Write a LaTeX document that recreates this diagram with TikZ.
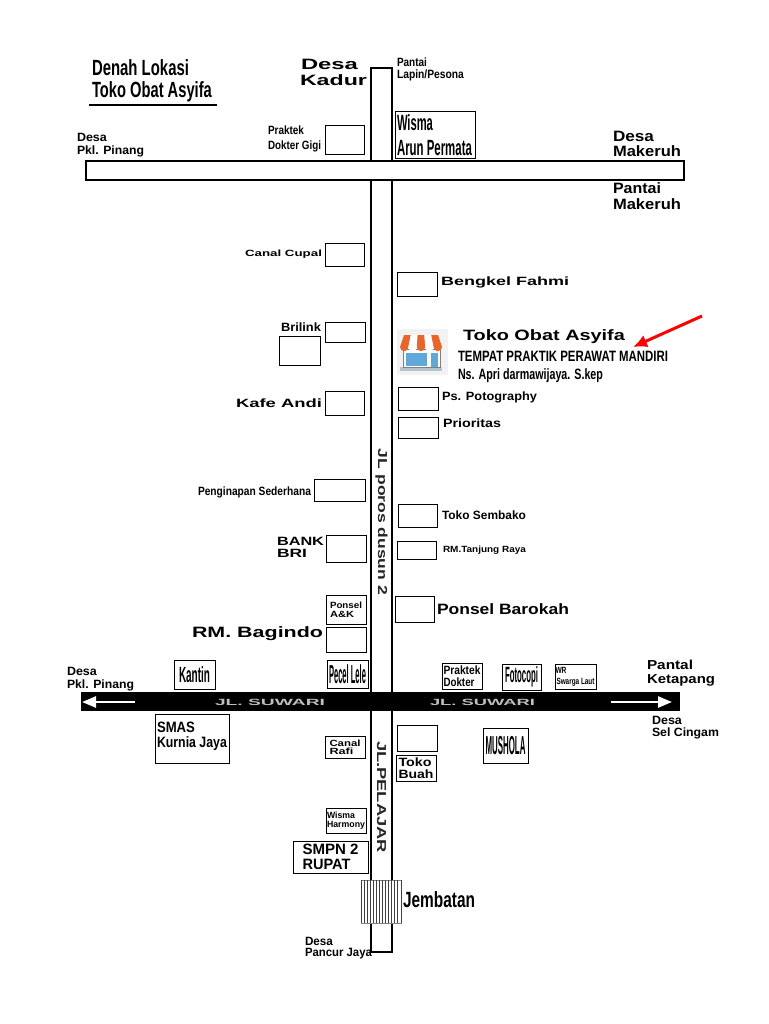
\documentclass[tikz,border=0pt]{standalone}
\usepackage{fontspec}
\usepackage{graphicx}
\usepackage{tikz}
\setmainfont{Liberation Sans}
\definecolor{awning}{HTML}{e8662a}
\definecolor{glass}{HTML}{5fa8d8}
\definecolor{wall}{HTML}{b9c4cc}
% squeeze or stretch a line of text to a width in px
\newcommand{\txt}[2]{\resizebox{#1pt}{\height}{\textbf{#2}}}
\tikzset {
  % boxes for the buildings
  box/.style = {draw, line width=0.9pt, fill=white, inner sep=0pt, outer sep=0pt, align=left},
  % labels, anchored at their left end
  lbl/.style = {inner sep=0pt, outer sep=0pt, anchor=west},
  small/.style = {font=\fontsize{9}{10}\selectfont},
  mid/.style = {font=\fontsize{12}{14}\selectfont},
  big/.style = {font=\fontsize{15}{18}\selectfont},
  huge/.style = {font=\fontsize{22}{26}\selectfont},
  tall/.style = {font=\fontsize{26}{30}\selectfont},
  % roads
  road/.style = {draw, line width=2pt, fill=white, inner sep=0pt, outer sep=0pt},
  whitearrow/.style = {draw=white, line width=2.5pt, -{Triangle[length=14pt,width=11pt]}},
  onblack/.style = {small, white!75!black},
}
\usetikzlibrary{arrows.meta}
\begin{document}
\begin{tikzpicture}[x=1pt, y=-1pt]
      \useasboundingbox (0, 0) rectangle (768, 1024);

      % roads
      \node[road, minimum width=21, minimum height=884] (poros) at (381.5, 510) {};
      \node[road, minimum width=598, minimum height=19] (makeruh) at (385, 170.5) {};
      \node[fill=black, inner sep=0pt, minimum width=599, minimum height=19] (suwari) at (380.5, 701.5) {};
      \coordinate (kirifrom) at (135, 702);
      \coordinate (kirito) at (82, 702);
      \coordinate (kananfrom) at (611, 702);
      \coordinate (kananto) at (672, 702);
      \draw[whitearrow] (kirifrom) -- (kirito);
      \draw[whitearrow] (kananfrom) -- (kananto);
      \node[lbl, onblack] (suwarikiri) at (215, 702) {\txt{110}{JL. SUWARI}};
      \node[lbl, onblack] (suwarikanan) at (430, 702) {\txt{105}{JL. SUWARI}};
      \node[font=\fontsize{13}{15}\selectfont, rotate=-90, inner sep=0pt, black!85] (namaporos) at (381.5, 522) {\txt{146}{JL poros dusun 2}};
      \node[font=\fontsize{13}{15}\selectfont, rotate=-90, inner sep=0pt, black!85] (namapelajar) at (381.5, 797) {\txt{112}{JL.PELAJAR}};

      % title
      \node[lbl, huge] (judul1) at (92, 68) {\txt{97}{Denah Lokasi}};
      \node[lbl, huge] (judul2) at (92, 92) {\txt{120}{Toko Obat Asyifa}};
      \coordinate (garisa) at (89, 105);
      \coordinate (garisb) at (217, 105);
      \draw[line width=1.3pt] (garisa) -- (garisb);

      % top
      \node[lbl, big] (kadur1) at (301, 64) {\txt{57}{Desa}};
      \node[lbl, big] (kadur2) at (300, 80) {\txt{67}{Kadur}};
      \node[lbl, mid] (lapin1) at (397, 62) {\txt{30}{Pantai}};
      \node[lbl, mid] (lapin2) at (397, 75) {\txt{67}{Lapin/Pesona}};
      \node[box, minimum width=80, minimum height=47] (wisma) at (435, 134.5) {};
      \node[lbl, huge] (wisma1) at (397, 123) {\txt{36}{Wisma}};
      \node[lbl, huge] (wisma2) at (397, 148) {\txt{75}{Arun Permata}};
      \node[lbl, mid] (gigi1) at (268, 130) {\txt{36}{Praktek}};
      \node[lbl, mid] (gigi2) at (268, 146) {\txt{53}{Dokter Gigi}};
      \node[box, minimum width=39, minimum height=29] (gigi) at (344.5, 139.5) {};
      \node[lbl, mid] (pinang1) at (77, 137) {\txt{30}{Desa}};
      \node[lbl, mid] (pinang2) at (77, 151) {\txt{67}{Pkl. Pinang}};
      \node[lbl, big] (makeruh1) at (613, 136) {\txt{41}{Desa}};
      \node[lbl, big] (makeruh2) at (613, 151) {\txt{68}{Makeruh}};
      \node[lbl, big] (makeruh3) at (613, 188) {\txt{48}{Pantai}};
      \node[lbl, big] (makeruh4) at (613, 204) {\txt{68}{Makeruh}};

      % left side of the main road
      \node[lbl, small] (cupal1) at (245, 254) {\txt{77}{Canal Cupal}};
      \node[box, minimum width=39, minimum height=23] (cupal) at (344.5, 254.5) {};
      \node[lbl, mid] (brilink1) at (281, 327) {\txt{40}{Brilink}};
      \node[box, minimum width=40, minimum height=20] (brilink) at (345, 332) {};
      \node[box, minimum width=41, minimum height=29] (brilink2) at (299.5, 350.5) {};
      \node[lbl, mid] (kafe1) at (236, 403) {\txt{86}{Kafe Andi}};
      \node[box, minimum width=39, minimum height=24] (kafe) at (344.5, 403) {};
      \node[lbl, mid] (inap1) at (198, 492) {\txt{113}{Penginapan Sederhana}};
      \node[box, minimum width=51, minimum height=22] (inap) at (339.5, 490) {};
      \node[lbl, mid] (bri1) at (277, 541) {\txt{47}{BANK}};
      \node[lbl, mid] (bri2) at (277, 553) {\txt{30}{BRI}};
      \node[box, minimum width=40, minimum height=27] (bri) at (346, 548.5) {};
      \node[box, small, minimum width=40, minimum height=29] (aak) at (346, 609.5) {\txt{32}{Ponsel}\\[-1pt]\txt{24}{A\&K}};
      \node[lbl, big] (bagindo1) at (192, 634) {\txt{131}{RM. Bagindo}};
      \node[box, minimum width=40, minimum height=25] (bagindo) at (346, 639.5) {};

      % right side of the main road
      \node[box, minimum width=40, minimum height=24] (fahmi) at (417, 284) {};
      \node[lbl, mid] (fahmi1) at (441, 282) {\txt{128}{Bengkel Fahmi}};

      % the shop
      \fill[gray!10] (397, 329) rectangle (448, 375);
      \fill[wall] (400, 367) rectangle (442, 371);
      \fill[white] (403, 349) rectangle (440, 367);
      \draw[gray, line width=0.8pt] (403, 349) rectangle (440, 367);
      \fill[glass] (406, 353) rectangle (427, 366);
      \fill[glass] (431, 353) rectangle (438, 367);
      \foreach \i/\c in {0/awning, 1/white, 2/awning, 3/white, 4/awning} {
        \fill[\c] ({400+8.4*\i}, 347) -- ({404+6.8*\i}, 335) -- ({410.8+6.8*\i}, 335) -- ({408.4+8.4*\i}, 347)
          arc[start angle=0, end angle=180, radius=4.2] -- cycle;
      }
      \node[lbl, big] (toko1) at (463, 337) {\txt{162}{Toko Obat Asyifa}};
      \node[lbl, big] (toko2) at (458, 356) {\txt{210}{TEMPAT PRAKTIK PERAWAT MANDIRI}};
      \node[lbl, big] (toko3) at (458, 376) {\txt{145}{Ns. Apri darmawijaya. S.kep}};
      \coordinate (panahfrom) at (702, 316);
      \coordinate (panahto) at (633, 347);
      \draw[red, line width=3pt, -{Latex[length=14pt,width=13pt]}] (panahfrom) -- (panahto);

      \node[box, minimum width=40, minimum height=23] (foto) at (418, 398.5) {};
      \node[lbl, mid] (foto1) at (442, 397) {\txt{95}{Ps. Potography}};
      \node[box, minimum width=40, minimum height=21] (prioritas) at (418, 427.5) {};
      \node[lbl, mid] (prioritas1) at (443, 423) {\txt{58}{Prioritas}};
      \node[box, minimum width=39, minimum height=23] (sembako) at (417.5, 515.5) {};
      \node[lbl, mid] (sembako1) at (442, 515) {\txt{84}{Toko Sembako}};
      \node[box, minimum width=39, minimum height=18] (tanjung) at (416.5, 550) {};
      \node[lbl, small] (tanjung1) at (443, 550) {\txt{83}{RM.Tanjung Raya}};
      \node[box, minimum width=39, minimum height=26] (barokah) at (414.5, 609) {};
      \node[lbl, big] (barokah1) at (437, 609) {\txt{132}{Ponsel Barokah}};

      % along JL. SUWARI, left
      \node[lbl, mid] (pinang3) at (67, 671) {\txt{30}{Desa}};
      \node[lbl, mid] (pinang4) at (67, 685) {\txt{67}{Pkl. Pinang}};
      \node[box, huge, minimum width=41, minimum height=29] (kantin) at (194.5, 674.5) {\txt{31}{Kantin}};
      \node[box, tall, minimum width=41, minimum height=28] (pecel) at (347.5, 674) {\txt{37}{Pecel Lele}};
      \node[box, minimum width=74, minimum height=49] (smas) at (192, 738.5) {};
      \node[lbl, big] (smas1) at (157, 727) {\txt{38}{SMAS}};
      \node[lbl, big] (smas2) at (157, 744) {\txt{70}{Kurnia Jaya}};
      \node[box, small, minimum width=40, minimum height=22] (rafi) at (345, 747) {\txt{31}{Canal}\\[-2pt]\txt{24}{Rafi}};

      % along JL. SUWARI, right
      \node[box, mid, minimum width=40, minimum height=26] (praktik) at (462, 676) {\txt{37}{Praktek}\\[-2pt]\txt{31}{Dokter}};
      \node[box, huge, minimum width=39, minimum height=26] (fotocopi) at (521.5, 677) {\txt{33}{Fotocopi}};
      \node[box, small, minimum width=41, minimum height=25] (swarga) at (575.5, 676.5) {\hspace*{-1pt}\txt{11}{WR}\hspace*{27pt}\\[1pt]\txt{38}{Swarga Laut}};
      \node[lbl, font=\fontsize{13}{15}\selectfont] (ketapang1) at (647, 665) {\txt{46}{Pantal}};
      \node[lbl, font=\fontsize{13}{15}\selectfont] (ketapang2) at (647, 680) {\txt{68}{Ketapang}};
      \node[lbl, mid] (cingam1) at (652, 720) {\txt{30}{Desa}};
      \node[lbl, mid] (cingam2) at (652, 733) {\txt{67}{Sel Cingam}};
      \node[box, minimum width=40, minimum height=26] (kosong) at (417, 738) {};
      \node[box, mid, minimum width=40, minimum height=26] (buah) at (416, 768) {\txt{33}{Toko}\\[-2pt]\txt{35}{Buah}};
      \node[box, tall, minimum width=45, minimum height=35] (mushola) at (505.5, 745.5) {\txt{40}{MUSHOLA}};

      % south
      \node[box, small, minimum width=40, minimum height=25] (harmony) at (346, 820.5) {\txt{28}{Wisma}\\[-1pt]\txt{38}{Harmony}};
      \node[box, big, minimum width=75, minimum height=32] (smpn) at (330.5, 857) {\txt{56}{SMPN 2}\\[-3pt]\txt{48}{RUPAT}};
      \node[box, draw=gray, line width=0.5pt, minimum width=40, minimum height=43] (jembatan) at (381, 901.5) {};
      \foreach \x in {0, ..., 13} {
        \draw[black!75, line width=0.7pt] ({361+3.07*\x}, 880) -- ({361+3.07*\x}, 923);
      }
      \node[lbl, huge] (jembatan1) at (403, 900) {\txt{72}{Jembatan}};
      \node[lbl, mid] (pancur1) at (305, 941) {\txt{28}{Desa}};
      \node[lbl, mid] (pancur2) at (305, 954) {\txt{67}{Pancur Jaya}};
    \end{tikzpicture}
\end{document}
